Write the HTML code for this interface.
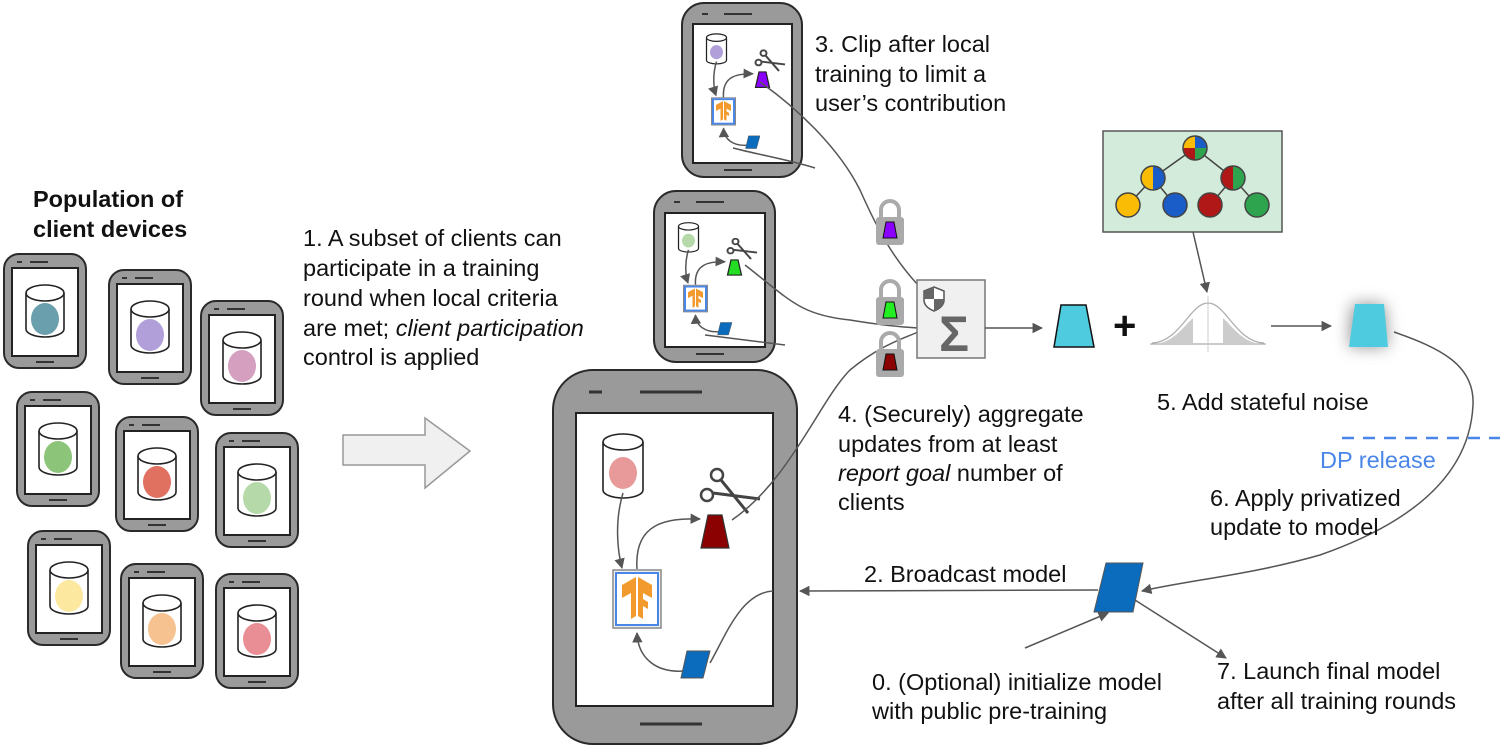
<!DOCTYPE html>
<html><head><meta charset="utf-8"><style>
html,body{margin:0;padding:0;background:#fff;width:1502px;height:746px;overflow:hidden}
svg{display:block}
text{font-family:"Liberation Sans",Arial,sans-serif;font-size:23.5px;fill:#111}
</style></head><body>
<svg width="1502" height="746" viewBox="0 0 1502 746" xmlns="http://www.w3.org/2000/svg">
<defs>
<marker id="ah" viewBox="0 0 10 10" refX="9" refY="5" markerWidth="7" markerHeight="7" orient="auto-start-reverse"><path d="M0,0 L10,5 L0,10 z" fill="#555"/></marker>
<filter id="blur" x="-1" y="-1" width="3" height="3"><feGaussianBlur stdDeviation="8"/></filter>
<g id="sp">
<rect x="1" y="1" width="82" height="114" rx="15" fill="#9a9a9a" stroke="#2a2a2a" stroke-width="2"/>
<line x1="14" y1="9" x2="19" y2="9" stroke="#333" stroke-width="2"/>
<line x1="27" y1="9" x2="45" y2="9" stroke="#333" stroke-width="2"/>
<rect x="9" y="15" width="66" height="88" fill="#fff" stroke="#222" stroke-width="2"/>
<line x1="33" y1="109" x2="51" y2="109" stroke="#333" stroke-width="2"/>
<path d="M23,40 L23,76 A19,8 0 0 0 61,76 L61,40" fill="#fff" stroke="#222" stroke-width="1.6"/>
<ellipse cx="42" cy="40" rx="19" ry="8" fill="#fff" stroke="#222" stroke-width="1.6"/>
</g>
</defs>

<g transform="translate(3,253)"><use href="#sp"/><ellipse cx="42" cy="66" rx="14" ry="16" fill="#6a9fad"/></g>
<g transform="translate(108,269)"><use href="#sp"/><ellipse cx="42" cy="66" rx="14" ry="16" fill="#b09fd8"/></g>
<g transform="translate(200,300)"><use href="#sp"/><ellipse cx="42" cy="66" rx="14" ry="16" fill="#d5a0c0"/></g>
<g transform="translate(16,391)"><use href="#sp"/><ellipse cx="42" cy="66" rx="14" ry="16" fill="#8cc47a"/></g>
<g transform="translate(115,416)"><use href="#sp"/><ellipse cx="42" cy="66" rx="14" ry="16" fill="#e07060"/></g>
<g transform="translate(215,432)"><use href="#sp"/><ellipse cx="42" cy="66" rx="14" ry="16" fill="#b5d9a8"/></g>
<g transform="translate(27,530)"><use href="#sp"/><ellipse cx="42" cy="66" rx="14" ry="16" fill="#fde8a0"/></g>
<g transform="translate(120,563)"><use href="#sp"/><ellipse cx="42" cy="66" rx="14" ry="16" fill="#f6c28f"/></g>
<g transform="translate(215,573)"><use href="#sp"/><ellipse cx="42" cy="66" rx="14" ry="16" fill="#e88e94"/></g>

<text x="33" y="207" style="font-weight:bold">Population of</text>
<text x="33" y="237" style="font-weight:bold">client devices</text>

<text x="303" y="246">1. A subset of clients can</text>
<text x="303" y="276">participate in a training</text>
<text x="303" y="306">round when local criteria</text>
<text x="303" y="336">are met; <tspan font-style="italic">client participation</tspan></text>
<text x="303" y="365">control is applied</text>

<path d="M343,435 L425,435 L425,418 L470,451 L425,488 L425,465 L343,465 Z" fill="#f0f0f0" stroke="#999" stroke-width="1.5"/>

<!-- big phone -->
<rect x="553" y="370" width="244" height="374" rx="40" fill="#9a9a9a" stroke="#2a2a2a" stroke-width="2"/>
<line x1="589" y1="392" x2="602" y2="392" stroke="#333" stroke-width="3"/>
<line x1="640" y1="392" x2="702" y2="392" stroke="#333" stroke-width="3"/>
<rect x="576" y="413" width="197" height="293" fill="#fff" stroke="#222" stroke-width="2"/>
<line x1="640" y1="724" x2="702" y2="724" stroke="#333" stroke-width="3"/>

<g transform="translate(576,413)">
<path d="M27,29 L27,77 A20,8 0 0 0 67,77 L67,29" fill="#fff" stroke="#222" stroke-width="1.6"/>
<ellipse cx="47" cy="29" rx="20" ry="8" fill="#fff" stroke="#222" stroke-width="1.6"/>
<ellipse cx="47" cy="60" rx="14" ry="16" fill="#e89a9a"/>
<path d="M47,80 C38,110 42,140 46,155" fill="none" stroke="#555" stroke-width="1.5" marker-end="url(#ah)"/>
<path d="M61,156 C58,110 90,105 124,106" fill="none" stroke="#555" stroke-width="1.5" marker-end="url(#ah)"/>
<path d="M108,258 C80,260 62,245 61,220" fill="none" stroke="#555" stroke-width="1.5" marker-end="url(#ah)"/>
<path d="M134,250 C150,222 165,180 197,178" fill="none" stroke="#555" stroke-width="1.5"/>
<rect x="37" y="157" width="48" height="58" fill="#eee" stroke="#888" stroke-width="1.5"/>
<rect x="40" y="160" width="42" height="52" fill="#fff" stroke="#4a86e8" stroke-width="2"/>
<path d="M46,172 L60,164 L60,203 L55,206 L55,180 L46,185 Z M62,164 L76,172 L76,185 L67,180 L67,186 L72,189 L72,196 L67,193 L67,206 L62,203 Z" fill="#f39a2e"/>
<polygon points="111,238 134,238 127,265 105,265" fill="#0b6cbd" stroke="#555"/>
<polygon points="132,102 146,102 153,135 125,135" fill="#8b0000" stroke="#333" stroke-width="1.2"/>
<g stroke="#444" stroke-width="2.5" fill="none">
<circle cx="141" cy="62" r="6"/><circle cx="131" cy="82" r="6"/>
<path d="M145,67 L172,100" stroke-width="3"/><path d="M137,80 L184,86" stroke-width="3"/>
</g>
</g>

<!-- top phone 1 -->
<rect x="682" y="3" width="120" height="174" rx="22" fill="#9a9a9a" stroke="#2a2a2a" stroke-width="2"/>
<line x1="702" y1="14" x2="708" y2="14" stroke="#333" stroke-width="2"/>
<line x1="724" y1="14" x2="752" y2="14" stroke="#333" stroke-width="2"/>
<rect x="693" y="24" width="99" height="139" fill="#fff" stroke="#222" stroke-width="2"/>
<line x1="724" y1="170" x2="752" y2="170" stroke="#333" stroke-width="2"/>
<g transform="translate(693,24) scale(0.5,0.47)">
<path d="M27,29 L27,77 A20,8 0 0 0 67,77 L67,29" fill="#fff" stroke="#222" stroke-width="2.5"/>
<ellipse cx="47" cy="29" rx="20" ry="8" fill="#fff" stroke="#222" stroke-width="2.5"/>
<ellipse cx="47" cy="60" rx="13" ry="15" fill="#b09fd8"/>
<path d="M47,80 C38,110 42,140 46,152" fill="none" stroke="#555" stroke-width="3" marker-end="url(#ah)"/>
<path d="M61,156 C58,110 90,105 120,106" fill="none" stroke="#555" stroke-width="3" marker-end="url(#ah)"/>
<path d="M108,258 C80,260 62,245 61,222" fill="none" stroke="#555" stroke-width="3" marker-end="url(#ah)"/>
<rect x="37" y="157" width="48" height="58" fill="#eee" stroke="#888" stroke-width="2"/>
<rect x="40" y="160" width="42" height="52" fill="#fff" stroke="#4a86e8" stroke-width="4"/>
<path d="M46,172 L60,164 L60,203 L55,206 L55,180 L46,185 Z M62,164 L76,172 L76,185 L67,180 L67,186 L72,189 L72,196 L67,193 L67,206 L62,203 Z" fill="#f39a2e"/>
<polygon points="111,238 134,238 127,265 105,265" fill="#0b6cbd" stroke="#555"/>
<polygon points="132,102 146,102 153,135 125,135" fill="#8b00ff" stroke="#222" stroke-width="2.5"/>
<g stroke="#444" stroke-width="4" fill="none"><circle cx="141" cy="62" r="6"/><circle cx="131" cy="82" r="6"/><path d="M145,67 L172,100"/><path d="M137,80 L184,86"/></g>
</g>
<path d="M733,148 C760,155 790,160 815,168" fill="none" stroke="#555" stroke-width="1.5"/>

<!-- top phone 2 -->
<rect x="654" y="191" width="121" height="171" rx="22" fill="#9a9a9a" stroke="#2a2a2a" stroke-width="2"/>
<line x1="674" y1="202" x2="680" y2="202" stroke="#333" stroke-width="2"/>
<line x1="696" y1="202" x2="724" y2="202" stroke="#333" stroke-width="2"/>
<rect x="665" y="213" width="100" height="134" fill="#fff" stroke="#222" stroke-width="2"/>
<line x1="696" y1="354" x2="724" y2="354" stroke="#333" stroke-width="2"/>
<g transform="translate(665,213) scale(0.5,0.46)">
<path d="M27,29 L27,77 A20,8 0 0 0 67,77 L67,29" fill="#fff" stroke="#222" stroke-width="2.5"/>
<ellipse cx="47" cy="29" rx="20" ry="8" fill="#fff" stroke="#222" stroke-width="2.5"/>
<ellipse cx="47" cy="60" rx="13" ry="15" fill="#b5d9a8"/>
<path d="M47,80 C38,110 42,140 46,152" fill="none" stroke="#555" stroke-width="3" marker-end="url(#ah)"/>
<path d="M61,156 C58,110 90,105 120,106" fill="none" stroke="#555" stroke-width="3" marker-end="url(#ah)"/>
<path d="M108,258 C80,260 62,245 61,222" fill="none" stroke="#555" stroke-width="3" marker-end="url(#ah)"/>
<rect x="37" y="157" width="48" height="58" fill="#eee" stroke="#888" stroke-width="2"/>
<rect x="40" y="160" width="42" height="52" fill="#fff" stroke="#4a86e8" stroke-width="4"/>
<path d="M46,172 L60,164 L60,203 L55,206 L55,180 L46,185 Z M62,164 L76,172 L76,185 L67,180 L67,186 L72,189 L72,196 L67,193 L67,206 L62,203 Z" fill="#f39a2e"/>
<polygon points="111,238 134,238 127,265 105,265" fill="#0b6cbd" stroke="#555"/>
<polygon points="132,102 146,102 153,135 125,135" fill="#22dd22" stroke="#222" stroke-width="2.5"/>
<g stroke="#444" stroke-width="4" fill="none"><circle cx="141" cy="62" r="6"/><circle cx="131" cy="82" r="6"/><path d="M145,67 L172,100"/><path d="M137,80 L184,86"/></g>
</g>
<path d="M705,335 C730,338 760,342 785,345" fill="none" stroke="#555" stroke-width="1.5"/>

<path d="M760,82 C800,110 840,150 860,190 C880,235 895,260 918,285" fill="none" stroke="#555" stroke-width="1.5"/>
<path d="M745,265 C790,300 800,315 850,320 C880,325 900,327 918,328" fill="none" stroke="#555" stroke-width="1.5"/>
<path d="M732,520 C790,480 820,400 850,370 C880,345 905,338 918,332" fill="none" stroke="#555" stroke-width="1.5"/>

<path d="M881,218 L881,210 A9,9 0 0 1 899,210 L899,218" fill="none" stroke="#aaa" stroke-width="4"/>
<rect x="876" y="217" width="28" height="28" rx="3" fill="#aaa"/>
<polygon points="886,222 894,222 897,238 883,238" fill="#8b00ff" stroke="#111" stroke-width="1"/>
<path d="M881,298 L881,290 A9,9 0 0 1 899,290 L899,298" fill="none" stroke="#aaa" stroke-width="4"/>
<rect x="876" y="297" width="28" height="28" rx="3" fill="#aaa"/>
<polygon points="886,302 894,302 897,318 883,318" fill="#22ee22" stroke="#111" stroke-width="1"/>
<path d="M881,350 L881,342 A9,9 0 0 1 899,342 L899,350" fill="none" stroke="#aaa" stroke-width="4"/>
<rect x="876" y="349" width="28" height="28" rx="3" fill="#aaa"/>
<polygon points="886,354 894,354 897,370 883,370" fill="#8b0000" stroke="#111" stroke-width="1"/>

<rect x="917" y="280" width="68" height="78" fill="#f0f0f0" stroke="#777" stroke-width="1.5"/>
<path d="M934,287 L944,291 L944,300 C944,306 939,309 934,311 C929,309 924,306 924,300 L924,291 Z" fill="#fff" stroke="#555" stroke-width="1.5"/>
<path d="M934,287 L934,299 L924,299 L924,291 Z M934,299 L944,299 C944,306 939,309 934,311 Z" fill="#666"/>
<text x="939" y="351" style="font-size:50px;font-weight:bold;fill:#666">Σ</text>
<line x1="985" y1="328" x2="1042" y2="328" stroke="#555" stroke-width="1.5" marker-end="url(#ah)"/>

<polygon points="1061,305 1086,305 1094,347 1054,347" fill="#4ecbdf" stroke="#111" stroke-width="1.5"/>
<text x="1113" y="339" style="font-size:40px;font-weight:bold">+</text>

<path d="M1152,343 C1180,342 1190,303 1208,303 C1226,303 1236,342 1264,343" fill="none" stroke="#aaa" stroke-width="1.2"/>
<path d="M1160,343 C1175,340 1185,325 1193,318 L1193,343 Z" fill="#ccc"/>
<path d="M1223,318 C1231,325 1241,340 1256,343 L1223,343 Z" fill="#ccc"/>
<line x1="1150" y1="344" x2="1266" y2="344" stroke="#aaa" stroke-width="1.2"/>
<line x1="1208" y1="296" x2="1208" y2="352" stroke="#ccc" stroke-width="1"/>

<rect x="1103" y="131" width="179" height="101" fill="#d3ebda" stroke="#555" stroke-width="1.5"/>
<g stroke="#444" stroke-width="1.5">
<line x1="1195" y1="148" x2="1153" y2="178"/><line x1="1195" y1="148" x2="1233" y2="178"/>
<line x1="1153" y1="178" x2="1128" y2="205"/><line x1="1153" y1="178" x2="1175" y2="205"/>
<line x1="1233" y1="178" x2="1210" y2="205"/><line x1="1233" y1="178" x2="1257" y2="205"/>
<circle cx="1128" cy="205" r="12" fill="#fbbc05"/>
<circle cx="1175" cy="205" r="12" fill="#1a5cc8"/>
<circle cx="1210" cy="205" r="12" fill="#b01818"/>
<circle cx="1257" cy="205" r="12" fill="#2ea44f"/>
</g>
<path d="M1153,166 A12,12 0 0 0 1153,190 Z" fill="#fbbc05"/><path d="M1153,166 A12,12 0 0 1 1153,190 Z" fill="#1a5cc8"/>
<circle cx="1153" cy="178" r="12" fill="none" stroke="#444" stroke-width="1.5"/>
<path d="M1233,166 A12,12 0 0 0 1233,190 Z" fill="#b01818"/><path d="M1233,166 A12,12 0 0 1 1233,190 Z" fill="#2ea44f"/>
<circle cx="1233" cy="178" r="12" fill="none" stroke="#444" stroke-width="1.5"/>
<path d="M1195,148 L1195,136 A12,12 0 0 0 1183,148 Z" fill="#fbbc05"/>
<path d="M1195,148 L1207,148 A12,12 0 0 0 1195,136 Z" fill="#1a5cc8"/>
<path d="M1195,148 L1183,148 A12,12 0 0 0 1195,160 Z" fill="#b01818"/>
<path d="M1195,148 L1195,160 A12,12 0 0 0 1207,148 Z" fill="#2ea44f"/>
<circle cx="1195" cy="148" r="12" fill="none" stroke="#444" stroke-width="1.5"/>
<line x1="1193" y1="232" x2="1207" y2="292" stroke="#555" stroke-width="1.5" marker-end="url(#ah)"/>

<line x1="1271" y1="326" x2="1331" y2="326" stroke="#555" stroke-width="1.5" marker-end="url(#ah)"/>
<polygon points="1352,304 1384,304 1388,347 1349,347" fill="#666" filter="url(#blur)" opacity="0.7"/>
<polygon points="1355,304 1384,304 1388,347 1349,347" fill="#4ecbdf"/>

<path d="M1394,332 C1440,348 1475,365 1473,405 C1470,470 1420,520 1320,555 C1250,575 1190,580 1142,591" fill="none" stroke="#555" stroke-width="1.5" marker-end="url(#ah)"/>
<line x1="1342" y1="438" x2="1500" y2="438" stroke="#4a86e8" stroke-width="2.5" stroke-dasharray="12,9"/>
<text x="1320" y="468" style="fill:#4a86e8">DP release</text>

<line x1="1098" y1="590" x2="800" y2="591" stroke="#555" stroke-width="1.5" marker-end="url(#ah)"/>
<polygon points="1106,563 1143,563 1133,612 1094,612" fill="#0b6cbd" stroke="#555"/>
<line x1="1025" y1="648" x2="1108" y2="613" stroke="#555" stroke-width="1.5" marker-end="url(#ah)"/>
<line x1="1135" y1="600" x2="1226" y2="658" stroke="#555" stroke-width="1.5" marker-end="url(#ah)"/>

<text x="815" y="52">3. Clip after local</text>
<text x="815" y="82">training to limit a</text>
<text x="815" y="111">user’s contribution</text>

<text x="838" y="422">4. (Securely) aggregate</text>
<text x="838" y="452"> updates from at least</text>
<text x="838" y="481"><tspan font-style="italic">report goal</tspan> number of</text>
<text x="838" y="510">clients</text>

<text x="1157" y="410">5. Add stateful noise</text>
<text x="1210" y="506">6. Apply privatized</text>
<text x="1210" y="535">update to model</text>
<text x="864" y="582">2. Broadcast model</text>
<text x="872" y="690">0. (Optional) initialize model</text>
<text x="872" y="719">with public pre-training</text>
<text x="1217" y="679">7. Launch final model</text>
<text x="1217" y="709">after all training rounds</text>
</svg>
</body></html>
